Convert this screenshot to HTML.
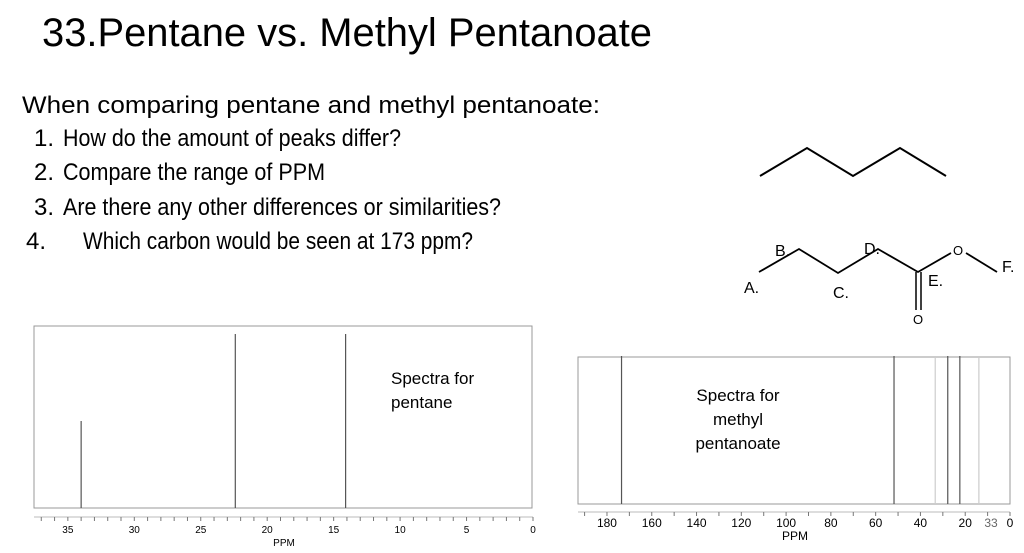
<!DOCTYPE html>
<html><head><meta charset="utf-8"><style>
html,body{margin:0;padding:0;background:#fff;}
svg{display:block;font-family:"Liberation Sans",Arial,sans-serif;}
</style></head><body>
<svg id="s" width="1024" height="553" viewBox="0 0 1024 553">
<text x="42" y="46" font-size="40" textLength="610" lengthAdjust="spacingAndGlyphs">33.Pentane vs. Methyl Pentanoate</text>
<g font-size="24">
<text x="22" y="113" textLength="578" lengthAdjust="spacingAndGlyphs">When comparing pentane and methyl pentanoate:</text>
<text x="34" y="146">1.</text>
<text x="63" y="146" textLength="338" lengthAdjust="spacingAndGlyphs">How do the amount of peaks differ?</text>
<text x="34" y="180">2.</text>
<text x="63" y="180" textLength="262" lengthAdjust="spacingAndGlyphs">Compare the range of PPM</text>
<text x="34" y="215">3.</text>
<text x="63" y="215" textLength="438" lengthAdjust="spacingAndGlyphs">Are there any other differences or similarities?</text>
<text x="26" y="249">4.</text>
<text x="83" y="249" textLength="390" lengthAdjust="spacingAndGlyphs">Which carbon would be seen at 173 ppm?</text>
</g>
<polyline points="760,176 807,148 853,176 900,148 946,176" fill="none" stroke="#000" stroke-width="2"/>
<g>
<polyline points="759,272 799,249 838,273 878,249 918,272 951,253" fill="none" stroke="#000" stroke-width="1.8"/>
<line x1="966" y1="253" x2="997" y2="272" stroke="#000" stroke-width="1.8"/>
<line x1="916" y1="272" x2="916" y2="310" stroke="#000" stroke-width="1.5"/>
<line x1="921" y1="272" x2="921" y2="310" stroke="#000" stroke-width="1.5"/>
<text x="953" y="255" font-size="13">O</text>
<text x="913" y="324" font-size="13">O</text>
<g font-size="16">
<text x="744" y="293">A.</text>
<text x="775" y="256">B.</text>
<text x="833" y="298">C.</text>
<text x="864" y="254">D.</text>
<text x="928" y="286">E.</text>
<text x="1002" y="272">F.</text>
</g></g>
<g id="c1"></g>
<g id="c2"></g>
</svg>
<script>
const pentShifts=[34.0,22.4,14.1];
const pentInt=[0.5,1,1];
const mpShifts=[173.5,51.8,33.4,27.8,22.4,13.9];
const mpInt=[1,1,1,1,1,1];
const mpGray=[false,false,true,false,false,true];
const pentTicks=[35,30,25,20,15,10,5,0];
const mpTicks=[180,160,140,120,100,80,60,40,20,0];
const NS="http://www.w3.org/2000/svg";
function mk(p,t,a){const e=document.createElementNS(NS,t);for(const k in a)e.setAttribute(k,a[k]);p.appendChild(e);return e;}
// left chart
const c1=document.getElementById('c1');
const x1=v=>533-v*13.29, y1b=508, y1=i=>y1b-i*174;
const f1=mk(c1,'rect',{x:34,y:326,width:498,height:182,fill:'none',stroke:'#999'});


mk(c1,'line',{x1:34,y1:517,x2:533,y2:517,stroke:'#bbb'});
for(let v=0;v<=37;v++){mk(c1,'line',{x1:x1(v),y1:517,x2:x1(v),y2:521,stroke:'#777'});}
pentTicks.forEach(v=>{const t=mk(c1,'text',{x:x1(v),y:533,'font-size':10,'text-anchor':'middle'});t.textContent=v;

});
const p1=mk(c1,'text',{x:284,y:546,'font-size':10,'text-anchor':'middle'});p1.textContent='PPM';


pentShifts.forEach((v,i)=>{const l=mk(c1,'line',{x1:x1(v),y1:y1b,x2:x1(v),y2:y1(pentInt[i]),stroke:'#555','stroke-width':1.2});

});
const a=mk(c1,'text',{x:391,y:384,'font-size':17});a.textContent='Spectra for';


const b=mk(c1,'text',{x:391,y:408,'font-size':17});b.textContent='pentane';


// right chart
const c2=document.getElementById('c2');
const x2=v=>1010-v*2.239, y2b=504, y2=i=>y2b-i*148;
const f2=mk(c2,'rect',{x:578,y:357,width:432,height:147,fill:'none',stroke:'#999'});


mk(c2,'line',{x1:578,y1:512,x2:1010,y2:512,stroke:'#bbb'});
for(let v=0;v<=190;v+=10){mk(c2,'line',{x1:x2(v),y1:512,x2:x2(v),y2:516,stroke:'#777'});}
mpTicks.forEach(v=>{const t=mk(c2,'text',{x:x2(v),y:527,'font-size':12,'text-anchor':'middle'});t.textContent=v;

});
const g33=mk(c2,'text',{x:991,y:527,'font-size':12,'text-anchor':'middle',fill:'#666'});g33.textContent='33';


const p2=mk(c2,'text',{x:795,y:540,'font-size':12,'text-anchor':'middle'});p2.textContent='PPM';


mpShifts.forEach((v,i)=>{const l=mk(c2,'line',{x1:x2(v),y1:y2b,x2:x2(v),y2:y2(mpInt[i]),stroke:mpGray[i]?'#ccc':'#555','stroke-width':1.2});

});
['Spectra for','methyl','pentanoate'].forEach((s,i)=>{const t=mk(c2,'text',{x:738,y:401+i*24,'font-size':17,'text-anchor':'middle'});t.textContent=s;

});
</script>
</body></html>
